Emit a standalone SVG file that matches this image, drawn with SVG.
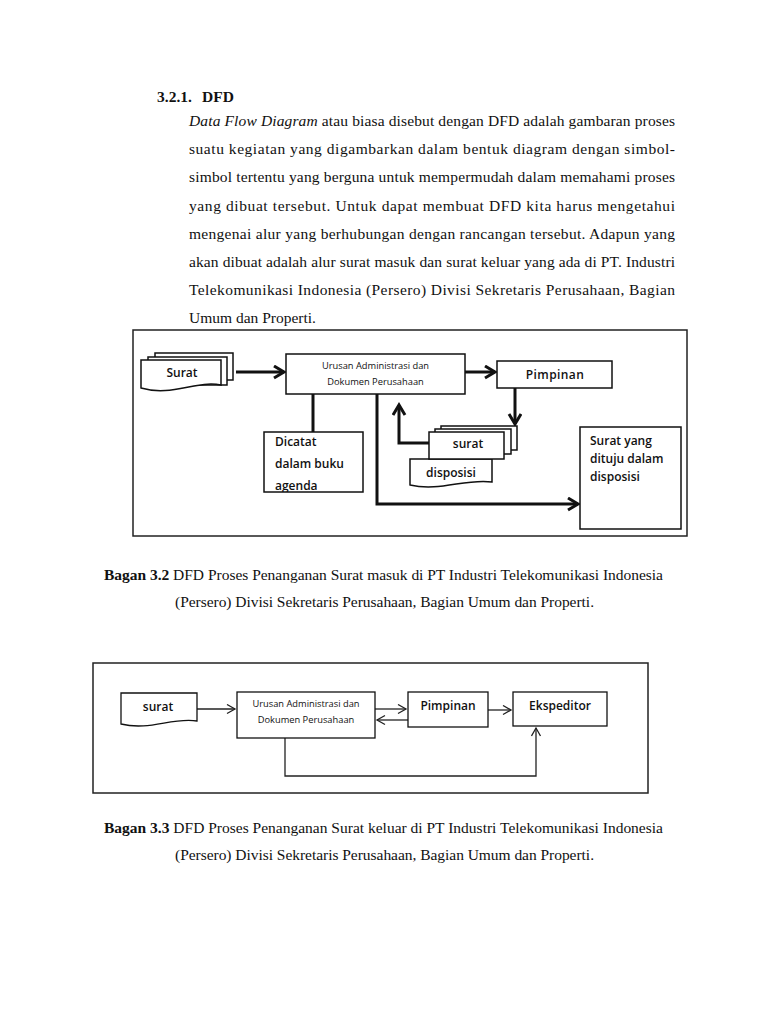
<svg xmlns="http://www.w3.org/2000/svg" width="768" height="1024" viewBox="0 0 768 1024">
<style>
.body{font-family:"Liberation Serif","Times New Roman",serif;font-size:15.5px;fill:#111}
.b{font-weight:bold}
.lbl{font-family:"Open Sans","DejaVu Sans",sans-serif;font-size:12px;font-weight:600;fill:#111}
.sm{font-family:"Open Sans","DejaVu Sans",sans-serif;font-size:9.3px;fill:#111}
.frame{fill:none;stroke:#222;stroke-width:1.5}
.box{fill:#fff;stroke:#111;stroke-width:1.5}
.thick{fill:none;stroke:#111;stroke-width:3}
.thin{fill:none;stroke:#222;stroke-width:1.3}
</style>
<defs>
<marker id="ah" markerUnits="userSpaceOnUse" markerWidth="14" markerHeight="16" refX="11" refY="7" orient="auto">
<path d="M1,1 L11,7 L1,13" fill="none" stroke="#111" stroke-width="3"/>
</marker>
<marker id="at" markerUnits="userSpaceOnUse" markerWidth="12" markerHeight="12" refX="9" refY="5.5" orient="auto">
<path d="M1,1 L9,5.5 L1,10" fill="none" stroke="#222" stroke-width="1.3"/>
</marker>
<clipPath id="clipDicatat"><rect x="264" y="432" width="99" height="60"/></clipPath>
</defs>
<rect width="768" height="1024" fill="#fff"/>

<g id="heading">
<text class="body b" x="157" y="102">3.2.1.</text>
<text class="body b" x="202" y="102">DFD</text>
</g>
<g id="paragraph" font-family="'Liberation Serif', 'Times New Roman', serif">
<text class="body" x="189" y="126" textLength="486" lengthAdjust="spacing"><tspan font-style="italic">Data Flow Diagram</tspan> atau biasa disebut dengan DFD adalah gambaran proses</text>
<text class="body" x="189" y="154" textLength="486" lengthAdjust="spacing">suatu kegiatan yang digambarkan dalam bentuk diagram dengan simbol-</text>
<text class="body" x="189" y="182" textLength="486" lengthAdjust="spacing">simbol tertentu yang berguna untuk mempermudah dalam memahami proses</text>
<text class="body" x="189" y="211" textLength="486" lengthAdjust="spacing">yang dibuat tersebut. Untuk dapat membuat DFD kita harus mengetahui</text>
<text class="body" x="189" y="239" textLength="486" lengthAdjust="spacing">mengenai alur yang berhubungan dengan rancangan tersebut. Adapun yang</text>
<text class="body" x="189" y="267" textLength="486" lengthAdjust="spacing">akan dibuat adalah alur surat masuk dan surat keluar yang ada di PT. Industri</text>
<text class="body" x="189" y="295" textLength="486" lengthAdjust="spacing">Telekomunikasi Indonesia (Persero) Divisi Sekretaris Perusahaan, Bagian</text>
<text class="body" x="189" y="323">Umum dan Properti.</text>
</g>

<!-- Diagram 1 -->
<rect id="frame1" class="frame" x="133" y="330" width="554" height="206"/>

<g id="connectors1">
<path class="thick" d="M236,372 H284" marker-end="url(#ah)"/>
<path class="thick" d="M465,372 H495" marker-end="url(#ah)"/>
<path class="thick" d="M515,388 V424" marker-end="url(#ah)"/>
<path class="thick" d="M429,443 H399 V405" marker-end="url(#ah)"/>
<path class="thick" d="M313,394 V432"/>
<path class="thick" d="M377,394 V504 H578" marker-end="url(#ah)"/>
</g>

<g id="node-surat-in">
<rect class="box" x="155" y="353" width="78" height="27"/>
<rect class="box" x="148" y="357" width="79" height="28"/>
<path class="box" d="M141,360 H221 V385 C196,380 172,397 141,388 Z"/>
<text class="lbl" x="182" y="377" text-anchor="middle">Surat</text>
</g>

<g id="node-urusan1">
<rect class="box" x="286" y="354" width="179" height="40"/>
<text class="sm" x="375.5" y="369" text-anchor="middle">Urusan Administrasi dan</text>
<text class="sm" x="375.5" y="385" text-anchor="middle">Dokumen Perusahaan</text>
</g>

<g id="node-pimpinan1">
<rect class="box" x="497" y="361" width="115" height="27"/>
<text class="lbl" x="555" y="379" text-anchor="middle" letter-spacing="0.4">Pimpinan</text>
</g>

<g id="node-dicatat">
<rect class="box" x="264" y="432" width="99" height="60"/>
<g clip-path="url(#clipDicatat)">
<text class="lbl" x="275" y="446">Dicatat</text>
<text class="lbl" x="275" y="468">dalam buku</text>
<text class="lbl" x="275" y="490">agenda</text>
</g>
</g>

<g id="node-disposisi">
<path class="box" d="M410,459 H492 V482 C466,478 440,492 410,485 Z"/>
<text class="lbl" x="451" y="477" text-anchor="middle">disposisi</text>
</g>

<g id="node-surat-stack">
<rect class="box" x="441" y="426" width="76" height="24"/>
<rect class="box" x="435" y="429" width="76" height="25"/>
<rect class="box" x="429" y="432" width="75" height="27"/>
<text class="lbl" x="468" y="448" text-anchor="middle">surat</text>
</g>

<g id="node-surat-yang">
<rect class="box" x="580" y="427" width="101" height="102"/>
<text class="lbl" x="590" y="445">Surat yang</text>
<text class="lbl" x="590" y="463">dituju dalam</text>
<text class="lbl" x="590" y="481">disposisi</text>
</g>

<g id="caption1">
<text class="body" x="104" y="580" textLength="559" lengthAdjust="spacing"><tspan class="b">Bagan 3.2</tspan> DFD Proses Penanganan Surat masuk di PT Industri Telekomunikasi Indonesia</text>
<text class="body" x="175" y="607" textLength="419" lengthAdjust="spacing">(Persero) Divisi Sekretaris Perusahaan, Bagian Umum dan Properti.</text>
</g>

<!-- Diagram 2 -->
<rect id="frame2" class="frame" x="93" y="663" width="555" height="130"/>

<g id="connectors2">
<path class="thin" d="M197,709 H235" marker-end="url(#at)"/>
<path class="thin" d="M375,709 H406" marker-end="url(#at)"/>
<path class="thin" d="M408,720 H377" marker-end="url(#at)"/>
<path class="thin" d="M488,710 H511" marker-end="url(#at)"/>
<path class="thin" d="M285,738 V776 H536 V728" marker-end="url(#at)"/>
</g>

<g id="node-surat-out">
<path class="box" style="stroke-width:1.3" d="M121,693 H197 V721 C172,717 150,731 121,724 Z"/>
<text class="lbl" x="158" y="711" text-anchor="middle">surat</text>
</g>

<g id="node-urusan2">
<rect class="box" style="stroke-width:1.3" x="237" y="692" width="138" height="46"/>
<text class="sm" x="306" y="707" text-anchor="middle">Urusan Administrasi dan</text>
<text class="sm" x="306" y="723" text-anchor="middle">Dokumen Perusahaan</text>
</g>

<g id="node-pimpinan2">
<rect class="box" style="stroke-width:1.3" x="408" y="692" width="80" height="35"/>
<text class="lbl" x="448" y="710" text-anchor="middle">Pimpinan</text>
</g>

<g id="node-ekspeditor">
<rect class="box" style="stroke-width:1.3" x="513" y="692" width="94" height="34"/>
<text class="lbl" x="560" y="710" text-anchor="middle">Ekspeditor</text>
</g>

<g id="caption2">
<text class="body" x="104" y="833" textLength="559" lengthAdjust="spacing"><tspan class="b">Bagan 3.3</tspan> DFD Proses Penanganan Surat keluar di PT Industri Telekomunikasi Indonesia</text>
<text class="body" x="175" y="860" textLength="419" lengthAdjust="spacing">(Persero) Divisi Sekretaris Perusahaan, Bagian Umum dan Properti.</text>
</g>
</svg>
